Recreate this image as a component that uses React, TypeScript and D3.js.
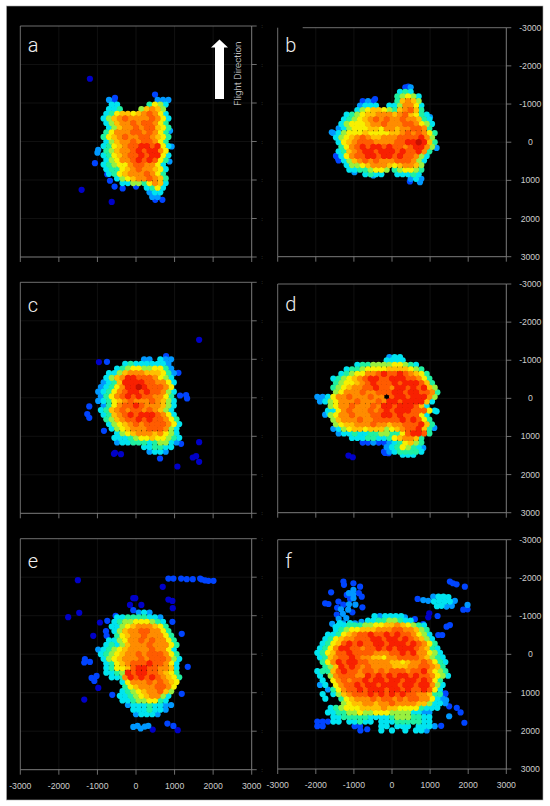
import * as d3 from "d3"
import React from 'react'

type Row = [number, number, string]
type Pt = [number, number, number]

const tickValues = [-3000, -2000, -1000, 0, 1000, 2000, 3000]
const levelColors = ["#0000c8", "#0044ff", "#0098ff", "#00e4f0", "#20f0a0", "#98f040", "#f8f000", "#ffc000", "#ff8c00", "#ff5c00", "#f82000", "#c81000"]

// each row: y value, x of first dot, one heat level per dot (hex digit, space = no dot), dots 140 apart
const rowsA: Row[] = [
  [-1080, -700, "21"], [-1080, 560, "222"],
  [-960, -630, "33"], [-960, 350, "4653"],
  [-840, -700, "334"], [-840, 140, "57875"],
  [-720, -770, "346776789863"],
  [-600, -840, "3578988889863"],
  [-480, -770, "357889899864"],
  [-360, -700, "357889899764"],
  [-240, -770, "468889989864"],
  [-120, -840, "4678988998764"],
  [0, -770, "357889899864"],
  [120, -840, "3467899aa9a63"],
  [240, -770, "457889a9aa86"],
  [360, -840, "3467899a9aa63"],
  [480, -770, "356889a9a964"],
  [600, -840, "345668998863"],
  [720, -770, "344678988763"],
  [840, -700, "3"], [840, -560, "4678889864"],
  [960, -490, "3567889874"],
  [1080, -350, "335546873"],
  [1200, 280, "3463"],
  [1320, 350, "233"],
  [1440, 420, "22"],
]
const extraA: Pt[] = [[-1195, -1630, 0], [-1410, 1255, 0], [-630, 1570, 0], [-1065, 563, 1], [-745, 850, 1], [-675, 1020, 1], [-555, 1170, 1], [-346, 1220, 1], [0, 1170, 1], [925, 130, 2], [883, -277, 2], [684, 1515, 1], [500, 1515, 1], [-980, 216, 2], [-1000, 290, 2], [866, 520, 2], [-545, -1134, 1], [494, -1220, 1]]

const rowsB: Row[] = [
  [-1440, 350, "12"],
  [-1320, 210, "343"],
  [-1200, 140, "45653"],
  [-1080, -770, "121"], [-1080, 140, "47875"],
  [-960, -840, "2333"], [-960, -70, "3358863"],
  [-840, -910, "3567765478974"],
  [-720, -1190, "3456778887897643"],
  [-600, -1260, "34567898988988743"],
  [-480, -1330, "356667889888998653"],
  [-360, -1400, "235666776887889984"],
  [-240, -1540, "23566676666778989864"],
  [-120, -1470, "3567898778889999a85"],
  [0, -1400, "3678999888899aaba74"],
  [120, -1330, "4689a9aa9a9989aa85"],
  [240, -1400, "34789aa9aaa9a99a84"],
  [360, -1470, "136899aa9aa9a99853"],
  [480, -1400, "13578989888999853"],
  [600, -1190, "355678887678875"],
  [720, -1120, "33445665"], [720, 70, "456654"],
  [840, -700, "3433"], [840, 140, "33343"],
  [960, 490, "232"],
]
const extraB: Pt[] = [[428, -1460, 1], [-1580, -260, 2], [-1420, 420, 1], [733, 1050, 2], [470, 1030, 1], [-986, 785, 2], [-490, 870, 2], [995, -655, 2], [1170, 150, 2], [-445, -1130, 1]]

const rowsC: Row[] = [
  [-1000, 210, "22"], [-1000, 630, "322"],
  [-880, -280, "343333332"],
  [-760, -490, "34566556642"],
  [-640, -700, "3357888777642"],
  [-520, -770, "3578aa9998653"],
  [-400, -840, "2347aaaa998863"],
  [-280, -910, "23468aaba99986"],
  [-160, -980, "234689aa9a99853"],
  [-40, -910, "24689a9a998864"],
  [80, -980, "234678988898753"],
  [200, -840, "246899a9888753"],
  [320, -910, "34789899898753"],
  [440, -840, "34789a9aaa9863"],
  [560, -770, "457899a9a99864"],
  [680, -700, "35678989999863"],
  [800, -630, "3567888999853"],
  [920, -490, "356788878653"],
  [1040, -560, "3334566766543"],
  [1160, -490, "233444345532"],
  [1280, 210, "334433"],
  [1400, 350, "2332"],
]
const extraC: Pt[] = [[1637, -1507, 0], [-961, -927, 0], [-753, -935, 1], [-1212, 225, 1], [-1264, 424, 1], [-1212, 520, 1], [-831, 857, 1], [-571, 1455, 0], [-545, 1430, 0], [-390, 1463, 0], [623, 1576, 1], [1074, 1784, 0], [1472, 1550, 0], [1559, 1515, 0], [1637, 1663, 0], [1637, 1152, 0], [1169, 1195, 1], [1143, -60, 1], [1299, -70, 1], [1325, 17, 1], [1100, -650, 1], [780, -1080, 1]]

const rowsD: Row[] = [
  [-1080, -70, "233"],
  [-1000, -140, "3333"],
  [-880, -910, "344555566543"],
  [-760, -1190, "344566667777654"],
  [-640, -1330, "34566889a99a98764"],
  [-520, -1540, "3456789aa99aaa99864"],
  [-400, -1470, "4566789a999a9aaa974"],
  [-280, -1540, "45678899a998aa9a9a75"],
  [-160, -1470, "56888988999aa9aa9984"],
  [-40, -1960, "223"], [-40, -1540, "6889888988 9aa9aaa85"],
  [80, -1890, "23"], [80, -1610, "56888988898aa9aaaa73"],
  [200, -1610, "5688988898aa9aaa973"],
  [320, -1680, "33689888989a9aaa99963"],
  [440, -1610, "5688988899aa9a99963"],
  [560, -1540, "5788898899999a9a964"],
  [680, -1470, "5677888988788999a74"],
  [800, -1540, "2356776777567899a74"],
  [920, -1400, "23343344554469aa94"],
  [1040, -1050, "3334433"], [1040, -70, "4678874"],
  [1160, -770, "11211"], [1160, -70, "2346754"],
  [1280, -140, "2346543"],
  [1400, -210, "12"], [1400, 70, "344443"],
  [1480, 280, "333"],
]
const extraD: Pt[] = [[-1143, 1500, 0], [-1030, 1545, 0], [-183, 1432, 1], [-90, 1440, 1], [1170, 340, 3], [1109, 777, 2], [820, 1300, 2], [-1755, 428, 2], [-1650, 400, 3]]

const rowsE: Row[] = [
  [-1080, 70, "232"],
  [-960, -490, "334444332"],
  [-840, -560, "3455666543"],
  [-720, -630, "3"], [-720, -490, "3567888764"],
  [-600, -560, "35788998864"],
  [-480, -490, "46788988864"],
  [-360, -700, "3"], [-360, -560, "356889898864"],
  [-240, -770, "34"], [-240, -490, "357888988864"],
  [-120, -980, "234567888898863"],
  [0, -910, "345678898999864"],
  [120, -840, "356788898999853"],
  [240, -770, "34678999a99863"],
  [360, -770, "346679aa998873"],
  [480, -770, "3345"], [480, -210, "a9aa998764"],
  [600, -630, "334"], [600, -280, "8a9a9a98764"],
  [720, -350, "36888989876"],
  [840, -280, "4678889986"],
  [960, -350, "3456788975"],
  [1080, -420, "3345678853"],
  [1200, -350, "334556643"],
  [1320, -210, "233343322"],
  [1440, -70, "3334332"],
  [1560, 0, "23332"],
]
const extraE: Pt[] = [[840, -1965, 1], [970, -1965, 1], [1170, -1965, 1], [1316, -1950, 1], [1472, -1950, 1], [1663, -1965, 1], [1706, -1940, 1], [1793, -1915, 1], [1880, -1905, 1], [2009, -1905, 1], [693, -1750, 0], [840, -1420, 0], [944, -1385, 0], [953, -1195, 0], [-1507, -1922, 0], [-1472, -1074, 0], [-1758, -961, 0], [-70, -1455, 0], [-20, -1455, 0], [-156, -1281, 0], [139, -1281, 0], [-70, -1143, 1], [-935, -823, 0], [-745, -866, 1], [-528, -996, 1], [-1108, -476, 0], [-779, -597, 1], [-762, -476, 1], [944, -840, 1], [1186, -528, 1], [1342, 329, 1], [1186, 1030, 1], [-1342, 1178, 0], [-978, 875, 0], [-615, 1056, 1], [-1152, 615, 1], [-1022, 563, 1], [-1082, 693, 1], [-1325, 130, 1], [-1342, 216, 1], [-1195, 200, 1], [433, 1957, 0], [1082, 1974, 0], [970, 1862, 1], [814, 1801, 1], [-70, 1890, 2], [40, 1860, 2], [120, 1930, 2], [230, 1880, 2], [320, 1860, 2]]

const rowsF: Row[] = [
  [-1000, -460, "323333"],
  [-880, -630, "334455433"],
  [-760, -1400, "33444556677876543"],
  [-640, -1470, "345667778889988754"],
  [-520, -1680, "33467899a99a9a998653"],
  [-400, -1750, "346788999aa9aa9a98753"],
  [-280, -1820, "34679a9a99aa9aaa9a9864"],
  [-160, -1890, "3468aa99899a9a9aaa98743"],
  [-40, -1960, "346799a999988899a9a88653"],
  [80, -1890, "347899a98877688999987543"],
  [200, -1820, "468a9aa99888877678898643"],
  [320, -1750, "457a9a98988887778899874"],
  [440, -1960, "3"], [440, -1820, "4"], [440, -1680, "479a99899898999899a8654"],
  [560, -1890, "3"], [560, -1610, "5899988a9a9a9aa9a998653"],
  [680, -1820, "3"], [680, -1540, "689899a9aa9aa9aa9a964"],
  [800, -1890, "23"], [800, -1470, "6899a9aa9aaa9aa9aa853"],
  [920, -1680, "24"], [920, -1400, "6899a9aaa9aa9a99a963"],
  [1040, -1820, "3"], [1040, -1540, "3"], [1040, -1400, "578999a9a9a9a998874"], [1040, 1260, "41"],
  [1160, -1750, "3"], [1160, -1330, "467888989989899886"], [1160, 1190, "32"],
  [1280, -1260, "56778878898888775"], [1280, 1120, "332"],
  [1400, -1610, "3456667777877666643"], [1400, 1050, "33"],
  [1520, -1680, "33445565566655553322"],
  [1640, -1540, "3344444333345554433"],
  [1760, -1960, "111"], [1760, -1540, "33"], [1760, -1120, "33433"], [1760, -280, "3334444433"],
  [1880, -1960, "11"], [1880, -980, "11"], [1880, -280, "33 333 3332"],
  [1990, -280, "3 3"], [1990, 350, "3 332"],
]
const extraF: Pt[] = [[-1275, -1903, 1], [-1260, -1820, 1], [-1013, -1860, 1], [-838, -1772, 1], [-1598, -1624, 1], [-1755, -1336, 1], [-1667, -1318, 1], [-1406, -1380, 1], [-1187, -1554, 1], [-1013, -1685, 2], [-794, -1510, 1], [-777, -1231, 1], [-960, -1300, 2], [-1100, -1450, 1], [-1280, -1300, 1], [-1150, -1170, 2], [-1450, -1040, 1], [-1570, -800, 2], [-1280, -810, 2], [-970, -810, 2], [-800, -850, 2], [-1400, -930, 2], [-1010, -1470, 2], [-1200, -950, 2], [-1340, -1180, 2], [-1290, -1060, 2], [-1440, -1220, 1], [-1130, -1310, 2], [-1040, -1100, 1], [-1130, -1600, 2], [-1020, -1570, 2], [-870, -1600, 1], [-1370, -820, 3], [-1100, -820, 3], [-1480, -710, 3], [-1200, -730, 3], [672, -1449, 1], [820, -1420, 2], [950, -1400, 2], [1083, -1510, 2], [1220, -1510, 3], [1350, -1510, 3], [1480, -1500, 3], [1100, -1380, 3], [1240, -1400, 3], [1380, -1380, 3], [1520, -1380, 3], [1650, -1400, 2], [1180, -1260, 3], [1300, -1270, 3], [1430, -1250, 2], [1570, -1270, 2], [1519, -1903, 1], [1694, -1833, 1], [1600, -1860, 1], [1912, -1772, 1], [1982, -1292, 2], [1982, -1178, 1], [1870, -1170, 1], [978, -1073, 0], [952, -969, 0], [1196, -1004, 1], [1432, -725, 1], [1520, -765, 1], [1213, -506, 1], [1318, -506, 1], [820, -794, 1], [600, -920, 1], [210, -969, 2], [340, -969, 2], [1300, 1020, 1], [1400, 1020, 1], [1500, 1360, 1], [1700, 1400, 1], [1800, 1520, 1], [1900, 1790, 1], [1290, 1870, 1], [1500, 1620, 2], [-650, 1960, 1], [-830, 1990, 1], [1420, 1200, 2]]

const panelLabels = ["a", "b", "c", "d", "e", "f"]
const panelRows = [rowsA, rowsB, rowsC, rowsD, rowsE, rowsF]
const panelExtra = [extraA, extraB, extraC, extraD, extraE, extraF]

// left, right, top, bottom of each plot and the letter baseline, in page pixels
const frames = [
  [20.3, 251.7, 26, 257, 52],
  [277.7, 506.3, 27.7, 256.7, 52],
  [20.3, 251.7, 282.3, 513.3, 312],
  [277.7, 506.3, 284, 512.7, 311],
  [20.3, 251.7, 538.7, 769.7, 568],
  [277.7, 506.3, 539.7, 769, 568],
]

const axisFont = "'Liberation Sans', Arial, sans-serif"
const lineColor = "#8a8a8a"
const labelColor = "#cccccc"

const heat = d3.scaleOrdinal<number, string>().domain(d3.range(levelColors.length)).range(levelColors)

function dotsFor(rows: Row[], extra: Pt[]): Pt[] {
  const out: Pt[] = [...extra]
  rows.forEach(([y, x0, s]) => {
    s.split("").forEach((c, i) => {
      if (c !== " ") out.push([x0 + i * 140, y, parseInt(c, 16)])
    })
  })
  return d3.sort(out, d => d[2])
}

const Panel = ({ i }: { i: number }) => {
  const [l, r, t, b, base] = frames[i]
  const x = d3.scaleLinear().domain([-3000, 3000]).range([l, r])
  const y = d3.scaleLinear().domain([-3000, 3000]).range([t, b])
  const rightCol = i % 2 === 1
  const bottomRow = i >= 4
  const dots = dotsFor(panelRows[i], panelExtra[i])
  return (
    <g>
      {tickValues.slice(1, -1).map(v => (
        <g key={v}>
          <line x1={x(v)} x2={x(v)} y1={t} y2={b} stroke="#141414" strokeWidth={0.8} />
          <line x1={l} x2={r} y1={y(v)} y2={y(v)} stroke="#141414" strokeWidth={0.8} />
        </g>
      ))}
      <line x1={i === 1 ? l + 25 : l} x2={r} y1={t} y2={t} stroke={lineColor} strokeWidth={0.8} />
      <line x1={l} x2={l} y1={t} y2={b} stroke={lineColor} strokeWidth={0.8} />
      <line x1={l} x2={r} y1={b} y2={b} stroke={lineColor} strokeWidth={0.9} />
      <line x1={r} x2={r} y1={t} y2={b} stroke={lineColor} strokeWidth={0.9} />
      {tickValues.map(v => (
        <g key={v}>
          <line x1={x(v)} x2={x(v)} y1={b} y2={b + 5} stroke={lineColor} strokeWidth={0.8} />
          <line x1={r} x2={r + 5} y1={y(v)} y2={y(v)} stroke={lineColor} strokeWidth={0.8} />
          {bottomRow && (
            <text x={x(v)} y={b + 19} textAnchor="middle" fontSize={8.7} fontFamily={axisFont} fill={labelColor}>{v}</text>
          )}
          {rightCol && (
            <text x={r + 24} y={y(v) + 3} textAnchor="middle" fontSize={8.7} fontFamily={axisFont} fill={labelColor}>{v}</text>
          )}
          {!rightCol && (
            <text x={r + 9.5} y={y(v) + 2} fontSize={6} fontFamily={axisFont} fill="#666">:</text>
          )}
        </g>
      ))}
      {dots.map((d, j) => (
        <circle key={j} cx={x(d[0])} cy={y(d[1])} r={3.1} fill={heat(d[2])} />
      ))}
      <text x={l + 7.5} y={base} fontSize={20} fontWeight={300} fontFamily="Roboto, sans-serif" fill="#f0f0f0">{panelLabels[i]}</text>
    </g>
  )
}

export default function App() {
  return (
    <svg width={550} height={806} style={{ position: "absolute", left: 0, top: 0, display: "block" }}>
      <rect width={550} height={806} fill="#fff" />
      <rect x={6.5} y={6} width={536.5} height={794} fill="#000" stroke="#aaa" strokeWidth={0.6} />
      {panelLabels.map((_, i) => <Panel key={i} i={i} />)}
      <path d="M219.5 39.5L228 47.5L224 47.5L224 99L215 99L215 47.5L211 47.5Z" fill="#fff" />
      <text transform="translate(241,106) rotate(-90)" fontSize={9.8} fontFamily="Roboto, sans-serif" fontWeight={300} fill="#e4e4e4">Flight Direction</text>
    </svg>
  )
}
